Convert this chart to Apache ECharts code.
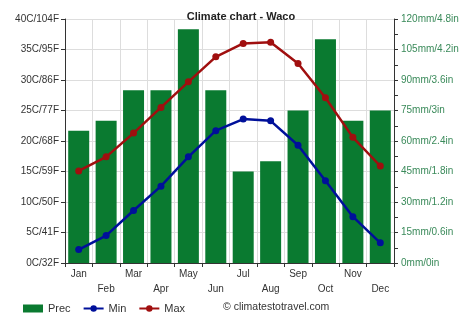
<!DOCTYPE html>
<html><head><meta charset="utf-8">
<script src="https://cdn.jsdelivr.net/npm/echarts@6/dist/echarts.min.js"></script>
<style>html,body{margin:0;padding:0;background:#fff}#c{width:474px;height:331px}</style>
</head><body><div id="c"></div>
<script>
const months = ['Jan','Feb','Mar','Apr','May','Jun','Jul','Aug','Sep','Oct','Nov','Dec'];
const prec = [65, 70, 85, 85, 115, 85, 45, 50, 75, 110, 70, 75];
const tMin = [2.2, 4.5, 8.6, 12.6, 17.4, 21.7, 23.6, 23.3, 19.3, 13.5, 7.6, 3.3];
const tMax = [15.1, 17.4, 21.3, 25.5, 29.7, 33.8, 36.0, 36.2, 32.7, 27.1, 20.6, 15.9];
const titleText = 'Climate chart - Waco';
const credit = '© climatestotravel.com';

const FONT = '"Liberation Sans", Arial, sans-serif';
const chart = echarts.init(document.getElementById('c'), null, {renderer: 'canvas'});
chart.setOption({
  animation: false,
  textStyle: {fontFamily: FONT},
  title: {text: titleText, left: 236, top: 6, textAlign: 'center',
    textStyle: {fontFamily: FONT, fontSize: 11, fontWeight: 'bold', color: '#222'}},
  grid: {left: 65, right: 80, top: 19, bottom: 68},
  legend: {
    left: 18, top: 298, itemGap: 12, itemWidth: 20, itemHeight: 8,
    textStyle: {fontFamily: FONT, fontSize: 11, color: '#333'},
    data: [{name: 'Prec', icon: 'rect'}, {name: 'Min'}, {name: 'Max'}]
  },
  graphic: [{type: 'text', left: 223, top: 302,
    style: {text: credit, font: '10.5px ' + FONT, fill: '#333'}}],
  xAxis: {
    type: 'category', data: months,
    axisLine: {lineStyle: {color: '#333'}},
    axisTick: {show: true, length: 4, lineStyle: {color: '#333'}},
    splitLine: {show: true, lineStyle: {color: '#ddd'}},
    axisLabel: {interval: 0, fontSize: 10, color: '#333', margin: 4, lineHeight: 15,
      formatter: (v, i) => (i % 2 ? '\n' + v : v)}
  },
  yAxis: [{
    type: 'value', min: 0, max: 40, interval: 5, position: 'left',
    axisLine: {show: true, lineStyle: {color: '#333'}},
    axisTick: {show: true, length: 4, lineStyle: {color: '#333'}},
    splitLine: {lineStyle: {color: '#ddd'}},
    axisLabel: {fontSize: 10, color: '#333', margin: 6,
      formatter: v => v + 'C/' + Math.round(v * 9 / 5 + 32) + 'F'}
  }, {
    type: 'value', min: 0, max: 120, interval: 15, position: 'right',
    axisLine: {show: true, lineStyle: {color: '#333'}},
    axisTick: {show: true, length: 4, lineStyle: {color: '#333'}},
    minorTick: {show: true, splitNumber: 2, length: 4, lineStyle: {color: '#333'}},
    splitLine: {show: false},
    axisLabel: {fontSize: 10, color: '#3a8a5a', margin: 7,
      formatter: v => v + 'mm/' + parseFloat((v / 25).toFixed(1)) + 'in'}
  }],
  series: [{
    name: 'Prec', type: 'bar', yAxisIndex: 1, data: prec,
    barWidth: 21, itemStyle: {color: '#0a7a30'}
  }, {
    name: 'Min', type: 'line', yAxisIndex: 0, data: tMin,
    symbol: 'circle', symbolSize: 7, lineStyle: {width: 2.5, color: '#00109a'},
    itemStyle: {color: '#00109a'}
  }, {
    name: 'Max', type: 'line', yAxisIndex: 0, data: tMax,
    symbol: 'circle', symbolSize: 7, lineStyle: {width: 2.5, color: '#a00f0f'},
    itemStyle: {color: '#a00f0f'}
  }]
});
</script></body></html>
